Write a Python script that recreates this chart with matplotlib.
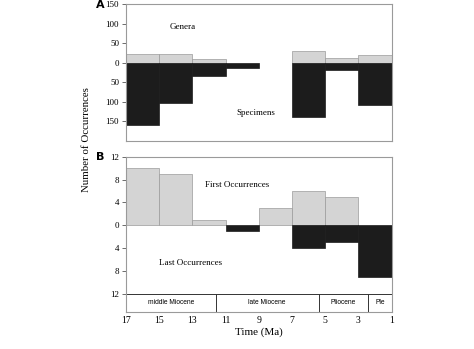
import numpy as np
import matplotlib.pyplot as plt

# time bins (Ma), left edge of each 2 Myr bin
bin_start = [17, 15, 13, 11, 9, 7, 5, 3]
bin_width = 2

# panel A
genera = [22, 22, 9, 0, 0, 30, 13, 21]
specimens = [159, 102, 33, 14, 0, 138, 18, 108]

# panel B
first_occ = [10, 9, 1, 0, 3, 6, 5, 0]
last_occ = [0, 0, 0, 1, 0, 4, 3, 9]

epochs = ['middle Miocene', 'late Miocene', 'Pliocene', 'Ple']
epoch_bounds = [17, 11.6, 5.4, 2.4, 1]

serif = 'Liberation Serif'
sans = 'Liberation Sans'
light = '#d4d4d4'
dark = '#1c1c1c'
edge = '#9a9a9a'


def draw_bars(ax, up, down):
    x = np.array(bin_start)
    ax.bar(x, up, width=-bin_width, align='edge', color=light, edgecolor=edge,
           linewidth=[0.5 if v else 0 for v in up])
    ax.bar(x, [-v for v in down], width=-bin_width, align='edge', color=dark,
           edgecolor=dark, linewidth=[0.5 if v else 0 for v in down])


fig = plt.figure(figsize=(4.74, 3.49), dpi=100)
axA = fig.add_axes([0.266, 0.596, 0.560, 0.3925])
axB = fig.add_axes([0.266, 0.107, 0.560, 0.444])

for ax in (axA, axB):
    for s in ax.spines.values():
        s.set_color(edge)
        s.set_linewidth(0.8)
    ax.set_xlim(17, 1)
    ax.tick_params(axis='y', length=3, width=0.6, color='#555555', pad=2,
                   labelsize=6.5)
    ax.tick_params(axis='x', length=0, labelsize=7, pad=3)

# --- Panel A ---
draw_bars(axA, genera, specimens)
axA.set_ylim(-200, 150)
ticksA = [150, 100, 50, 0, -50, -100, -150]
axA.set_yticks(ticksA)
axA.set_yticklabels([str(abs(t)) for t in ticksA], fontfamily=serif)
axA.set_xticks([])
axA.text(13.6, 90, 'Genera', fontfamily=serif, fontsize=6.5, ha='center', va='center')
axA.text(9.2, -128, 'Specimens', fontfamily=serif, fontsize=6.5, ha='center', va='center')

# --- Panel B ---
draw_bars(axB, first_occ, last_occ)
axB.set_ylim(-15.1, 12)
ticksB = [12, 8, 4, 0, -4, -8, -12]
axB.set_yticks(ticksB)
axB.set_yticklabels([str(abs(t)) for t in ticksB], fontfamily=serif)
axB.set_xticks([17, 15, 13, 11, 9, 7, 5, 3, 1])
axB.set_xticklabels(['17', '15', '13', '11', '9', '7', '5', '3', '1'], fontfamily=serif)
axB.text(10.3, 7, 'First Occurrences', fontfamily=serif, fontsize=6.5, ha='center', va='center')
axB.text(13.1, -6.6, 'Last Occurrences', fontfamily=serif, fontsize=6.5, ha='center', va='center')

# epoch band
axB.axhline(-12, color='#333333', linewidth=0.7)
for b in epoch_bounds[1:-1]:
    axB.plot([b, b], [-15.1, -12], color='#333333', linewidth=0.7)
for name, a, b in zip(epochs, epoch_bounds[:-1], epoch_bounds[1:]):
    axB.text((a + b) / 2, -13.55, name, fontfamily=sans, fontsize=4.8,
             ha='center', va='center')

axB.set_xlabel('Time (Ma)', fontfamily=serif, fontsize=8, labelpad=2)
fig.text(0.183, 0.60, 'Number of Occurrences', rotation=90, fontfamily=serif,
         fontsize=7.8, ha='center', va='center')

fig.text(0.212, 0.985, 'A', fontfamily='DejaVu Sans', fontweight='bold',
         fontsize=8, ha='center', va='center')
fig.text(0.212, 0.549, 'B', fontfamily='DejaVu Sans', fontweight='bold',
         fontsize=8, ha='center', va='center')

fig.savefig('out.png', dpi=100)
